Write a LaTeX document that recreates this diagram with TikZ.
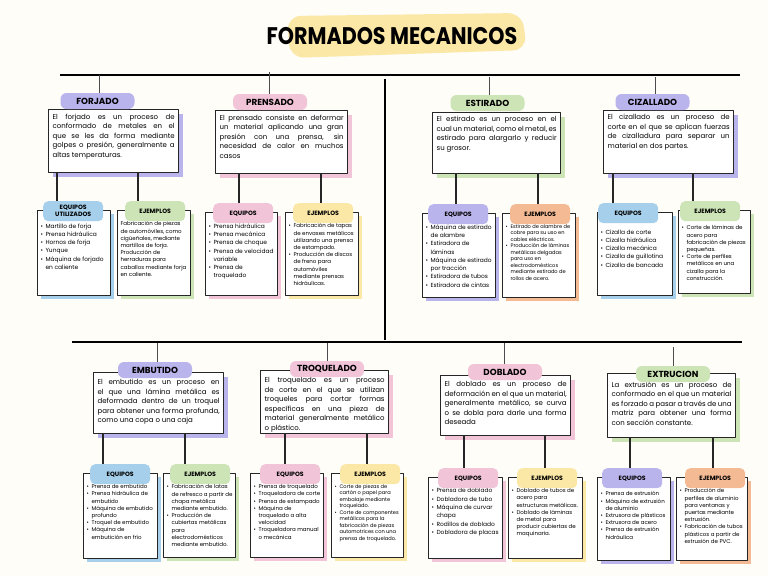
\documentclass[tikz,border=0pt]{standalone}
\usepackage{graphicx}
\usepackage{fontspec}
\setmainfont{Poppins}
\usetikzlibrary{shadows}
\definecolor{bgc}{RGB}{254,253,248}
\definecolor{lav}{RGB}{186,180,236}
\definecolor{pnk}{RGB}{241,196,216}
\definecolor{grn}{RGB}{205,228,182}
\definecolor{blu}{RGB}{165,207,234}
\definecolor{yel}{RGB}{251,232,166}
\definecolor{org}{RGB}{243,186,148}
\hyphenpenalty=10000
\exhyphenpenalty=10000
\newcommand\descf{\fontsize{7.0}{9.5}\selectfont\tolerance=9999\emergencystretch=20pt}
\newcommand\subf{\fontsize{5.9}{8.3}\selectfont\tolerance=9999}
\newcommand\exf{\fontsize{5.5}{7.2}\selectfont}
\newcommand\exs{\fontsize{5.1}{6.5}\selectfont}
\newcommand\itm[1]{\par\noindent\hangindent=5pt\hangafter=1\makebox[5pt][l]{•}#1\par}
\tikzset{
  mainbox/.style={draw=black!85, line width=1.3pt, fill=white, inner sep=4pt, line join=round},
  subbox/.style={draw=black!85, line width=1.1pt, fill=white, inner sep=3pt, line join=round},
  mainpill/.style={rounded corners=6pt, minimum width=74pt, minimum height=16pt, inner sep=1pt, font=\bfseries\fontsize{8.8}{8.8}\selectfont},
  subpill/.style={rounded corners=5pt, minimum width=60pt, minimum height=20pt, inner sep=1pt, align=center, font=\bfseries\fontsize{6.2}{6.8}\selectfont},
  bigline/.style={line width=1.8pt, black},
  tickline/.style={line width=0.6pt, black!70},
  conn/.style={line width=1.1pt, black!85},
}
\newcommand\mainblock[8]{%
  \node[mainbox, anchor=north west, drop shadow={shadow xshift=4pt, shadow yshift=-4pt, fill=#5, opacity=1}] (#1) at #2
   {\parbox[t][\dimexpr#4pt-8pt\relax][t]{\dimexpr#3pt-8pt\relax}{\descf #8}};
  \node[mainpill, fill=#5] (#1p) at #7 {#6};
}
\newcommand\subblock[8]{%
  \node[subbox, anchor=north west, drop shadow={shadow xshift=3pt, shadow yshift=-3pt, fill=#5, opacity=1}] (#1) at #2
   {\parbox[t][\dimexpr#4pt-6pt\relax][t]{\dimexpr#3pt-6pt\relax}{\subf\raggedright\vspace*{8pt}#8}};
  \node[subpill, fill=#5, anchor=north west] (#1p) at ([shift={(#7pt,9pt)}]#1.north west) {#6};
}
\newcommand\link[3]{\draw[conn] ([xshift=#3pt]#2p.north west |- #1.south) -- ([xshift=#3pt]#2p.north west);}
\begin{document}
\begin{tikzpicture}[x=1pt,y=-1pt]
\useasboundingbox (0,0) rectangle (768,576);
\fill[bgc] (0,0) rectangle (768,576);
% title
\fill[yel, rounded corners=14pt] (287,16) -- (522,13) -- (527,50) -- (290,58) -- cycle;
\node (title) at (392,36) {\scalebox{0.86}[1]{\bfseries\fontsize{24}{24}\selectfont FORMADOS MECANICOS}};
% main lines
\coordinate (tl1) at (60,75); \coordinate (tl2) at (740,75);
\coordinate (bl1) at (72,342); \coordinate (bl2) at (742,342);
\coordinate (vt) at (385,79); \coordinate (vb) at (385,340);
\draw[bigline] (tl1) -- (tl2);
\draw[bigline] (bl1) -- (bl2);
\draw[bigline] (vt) -- (vb);
% top row
\mainblock{fj}{(48,109)}{130}{63}{lav}{FORJADO}{(97.5,101)}{El forjado es un proceso de conformado de metales en el que se les da forma mediante golpes o presión, generalmente a altas temperaturas.}
\mainblock{pr}{(215,110)}{132}{63}{pnk}{PRENSADO}{(270,102)}{El prensado consiste en deformar un material aplicando una gran presión con una prensa, sin necesidad de calor en muchos casos}
\mainblock{es}{(432,112)}{128}{61}{grn}{ESTIRADO}{(487.5,103)}{El estirado es un proceso en el cual un material, como el metal, es estirado para alargarlo y reducir su grosor.}
\mainblock{ci}{(603,110)}{130}{63}{lav}{CIZALLADO}{(652.5,102)}{El cizallado es un proceso de corte en el que se aplican fuerzas de cizalladura para separar un material en dos partes.}
% bottom row
\mainblock{em}{(93,372)}{130}{61}{lav}{EMBUTIDO}{(155,370)}{\vspace*{3pt}El embutido es un proceso en el que una lámina metálica es deformada dentro de un troquel para obtener una forma profunda, como una copa o una caja}
\mainblock{tr}{(260,370)}{128}{63}{pnk}{TROQUELADO}{(327,369)}{\vspace*{3pt}El troquelado es un proceso de corte en el que se utilizan troqueles para cortar formas específicas en una pieza de material generalmente metálico o plástico.}
\mainblock{do}{(440,375)}{130}{60}{pnk}{DOBLADO}{(505,372)}{\vspace*{2pt}El doblado es un proceso de deformación en el que un material, generalmente metálico, se curva o se dobla para darle una forma deseada}
\mainblock{ex}{(607,373)}{128}{64}{grn}{EXTRUCION}{(673,374)}{\vspace*{4pt}La extrusión es un proceso de conformado en el que un material es forzado a pasar a través de una matriz para obtener una forma con sección constante.}
% sub blocks top
\subblock{fjq}{(37,210)}{73}{85}{blu}{EQUIPOS\\UTILIZADOS}{6}{\vspace*{2pt}\itm{Martillo de forja}\itm{Prensa hidráulica}\itm{Hornos de forja}\itm{Yunque}\itm{Máquina de forjado en caliente}}
\subblock{fjx}{(117,210)}{73}{85}{grn}{EJEMPLOS}{8}{\exf Fabricación de piezas de automóviles, como cigüeñales, mediante martillos de forja.\par Producción de herraduras para caballos mediante forja en caliente.}
\subblock{prq}{(205,212)}{72}{83}{pnk}{EQUIPOS}{8}{\itm{Prensa hidráulica}\itm{Prensa mecánica}\itm{Prensa de choque}\itm{Prensa de velocidad variable}\itm{Prensa de troquelado}}
\subblock{prx}{(285,212)}{73}{83}{yel}{EJEMPLOS}{8}{\exf\itm{Fabricación de tapas de envases metálicos utilizando una prensa de estampado.}\itm{Producción de discos de freno para automóviles mediante prensas hidráulicas.}}
\subblock{esq}{(422,213)}{73}{84}{lav}{EQUIPOS}{6}{\itm{Máquina de estirado de alambre}\itm{Estiradora de láminas}\itm{Máquina de estirado por tracción}\itm{Estiradora de tubos}\itm{Estiradora de cintas}}
\subblock{esx}{(502,213)}{73}{84}{org}{EJEMPLOS}{8}{\exs\itm{Estirado de alambre de cobre para su uso en cables eléctricos.}\itm{Producción de láminas metálicas delgadas para uso en electrodomésticos mediante estirado de rollos de acero.}}
\subblock{ciq}{(597,212)}{75}{83}{blu}{EQUIPOS}{1}{\vspace*{6pt}\itm{Cizalla de corte}\itm{Cizalla hidráulica}\itm{Cizalla mecánica}\itm{Cizalla de guillotina}\itm{Cizalla de bancada}}
\subblock{cix}{(678,210)}{72}{83}{grn}{EJEMPLOS}{2}{\vspace*{4pt}\exf\itm{Corte de láminas de acero para fabricación de piezas pequeñas.}\itm{Corte de perfiles metálicos en una cizalla para la construcción.}}
% sub blocks bottom
\subblock{emq}{(83,473)}{74}{85}{blu}{EQUIPOS}{7}{\exf\itm{Prensa de embutido}\itm{Prensa hidráulica de embutido}\itm{Máquina de embutido profundo}\itm{Troquel de embutido}\itm{Máquina de embutición en frío}}
\subblock{emx}{(163,473)}{72}{84}{grn}{EJEMPLOS}{7}{\exf\itm{Fabricación de latas de refresco a partir de chapa metálica mediante embutido.}\itm{Producción de cubiertas metálicas para electrodomésticos mediante embutido.}}
\subblock{trq}{(250,473)}{73}{84}{pnk}{EQUIPOS}{10}{\exf\itm{Prensa de troquelado}\itm{Troqueladora de corte}\itm{Prensa de estampado}\itm{Máquina de troquelado a alta velocidad}\itm{Troqueladora manual o mecánica}}
\subblock{trx}{(331,473)}{72}{84}{yel}{EJEMPLOS}{9}{\exs\itm{Corte de piezas de cartón o papel para embalaje mediante troquelado.}\itm{Corte de componentes metálicos para la fabricación de piezas automotrices con una prensa de troquelado.}}
\subblock{doq}{(428,477)}{74}{81}{pnk}{EQUIPOS}{10}{\itm{Prensa de doblado}\itm{Dobladora de tubo}\itm{Máquina de curvar chapa}\itm{Rodillos de doblado}\itm{Dobladora de placas}}
\subblock{dox}{(508,477)}{74}{81}{yel}{EJEMPLOS}{9}{\exf\itm{Doblado de tubos de acero para estructuras metálicas.}\itm{Doblado de láminas de metal para producir cubiertas de maquinaria.}}
\subblock{exq}{(597,477)}{73}{83}{lav}{EQUIPOS}{5}{\vspace*{3pt}\exf\itm{Prensa de extrusión}\itm{Máquina de extrusión de aluminio}\itm{Extrusora de plásticos}\itm{Extrusora de acero}\itm{Prensa de extrusión hidráulica}}
\subblock{exx}{(676,477)}{71}{83}{org}{EJEMPLOS}{9}{\exf\itm{Producción de perfiles de aluminio para ventanas y puertas mediante extrusión.}\itm{Fabricación de tubos plásticos a partir de extrusión de PVC.}}
% ticks
\coordinate (tfj) at (99,75); \coordinate (tpr) at (269,72);
\coordinate (tes) at (489,77); \coordinate (tci) at (655,77);
\coordinate (tem) at (157,343); \coordinate (ttr) at (327,343);
\coordinate (tdo) at (504,343); \coordinate (tex) at (673,347);
\draw[tickline] (tfj) -- (tfj |- fjp.north);
\draw[tickline] (tpr) -- (tpr |- prp.north);
\draw[tickline] (tes) -- (tes |- esp.north);
\draw[tickline] (tci) -- (tci |- cip.north);
\draw[tickline] (tem) -- (tem |- emp.north);
\draw[tickline] (ttr) -- (ttr |- trp.north);
\draw[tickline] (tdo) -- (tdo |- dop.north);
\draw[tickline] (tex) -- (tex |- exp.north);
% links
\link{fj}{fjq}{14} \link{fj}{fjx}{13}
\link{pr}{prq}{26} \link{pr}{prx}{28}
\link{es}{esq}{28} \link{es}{esx}{28}
\link{ci}{ciq}{15} \link{ci}{cix}{13}
\link{em}{emq}{13} \link{em}{emx}{15}
\link{tr}{trq}{25} \link{tr}{trx}{27}
\link{do}{doq}{26} \link{do}{dox}{28}
\link{ex}{exq}{28} \link{ex}{exx}{28}
\end{tikzpicture}
\end{document}
